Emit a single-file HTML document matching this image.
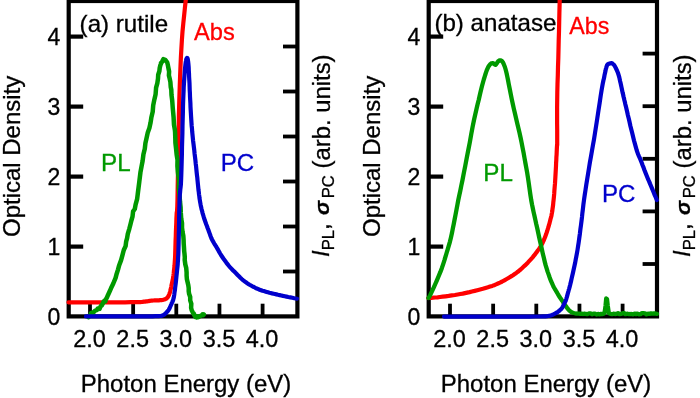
<!DOCTYPE html>
<html><head><meta charset="utf-8"><title>Optical Density, PL and PC spectra of rutile and anatase</title>
<style>
html,body{margin:0;padding:0;background:#fff;}
body{width:700px;height:398px;overflow:hidden;}
svg{display:block;font-family:"Liberation Sans",sans-serif;}
text{stroke:#000;stroke-width:0.3px;}
</style></head><body>
<svg width="700" height="398" viewBox="0 0 700 398">
<rect x="0" y="0" width="700" height="398" fill="#ffffff"/>
<rect x="68.7" y="1.0" width="228.7" height="315.4" fill="none" stroke="#000" stroke-width="4.2"/>
<line x1="90.00" y1="316.4" x2="90.00" y2="303.7" stroke="#000" stroke-width="3.8"/>
<text x="89.50" y="347.2" text-anchor="middle" font-size="23" textLength="32.6" lengthAdjust="spacingAndGlyphs">2.0</text>
<line x1="133.15" y1="316.4" x2="133.15" y2="303.7" stroke="#000" stroke-width="3.8"/>
<text x="132.65" y="347.2" text-anchor="middle" font-size="23" textLength="32.6" lengthAdjust="spacingAndGlyphs">2.5</text>
<line x1="176.30" y1="316.4" x2="176.30" y2="303.7" stroke="#000" stroke-width="3.8"/>
<text x="175.80" y="347.2" text-anchor="middle" font-size="23" textLength="32.6" lengthAdjust="spacingAndGlyphs">3.0</text>
<line x1="219.45" y1="316.4" x2="219.45" y2="303.7" stroke="#000" stroke-width="3.8"/>
<text x="218.95" y="347.2" text-anchor="middle" font-size="23" textLength="32.6" lengthAdjust="spacingAndGlyphs">3.5</text>
<line x1="262.60" y1="316.4" x2="262.60" y2="303.7" stroke="#000" stroke-width="3.8"/>
<text x="262.10" y="347.2" text-anchor="middle" font-size="23" textLength="32.6" lengthAdjust="spacingAndGlyphs">4.0</text>
<text x="60.4" y="324.50" text-anchor="end" font-size="23">0</text>
<line x1="68.7" y1="246.60" x2="83.2" y2="246.60" stroke="#000" stroke-width="4.2"/>
<text x="60.4" y="254.50" text-anchor="end" font-size="23">1</text>
<line x1="68.7" y1="176.60" x2="83.2" y2="176.60" stroke="#000" stroke-width="4.2"/>
<text x="60.4" y="184.50" text-anchor="end" font-size="23">2</text>
<line x1="68.7" y1="106.60" x2="83.2" y2="106.60" stroke="#000" stroke-width="4.2"/>
<text x="60.4" y="114.50" text-anchor="end" font-size="23">3</text>
<line x1="68.7" y1="36.60" x2="83.2" y2="36.60" stroke="#000" stroke-width="4.2"/>
<text x="60.4" y="44.50" text-anchor="end" font-size="23">4</text>
<line x1="297.4" y1="46.50" x2="283.0" y2="46.50" stroke="#000" stroke-width="3.8"/>
<line x1="297.4" y1="91.50" x2="283.0" y2="91.50" stroke="#000" stroke-width="3.8"/>
<line x1="297.4" y1="136.50" x2="283.0" y2="136.50" stroke="#000" stroke-width="3.8"/>
<line x1="297.4" y1="181.50" x2="283.0" y2="181.50" stroke="#000" stroke-width="3.8"/>
<line x1="297.4" y1="226.50" x2="283.0" y2="226.50" stroke="#000" stroke-width="3.8"/>
<line x1="297.4" y1="271.50" x2="283.0" y2="271.50" stroke="#000" stroke-width="3.8"/>
<text transform="translate(20.3,237.0) rotate(-90)" font-size="23.2" textLength="161.2" lengthAdjust="spacingAndGlyphs">Optical Density</text>
<text x="80.8" y="392" font-size="23" textLength="210.5" lengthAdjust="spacingAndGlyphs">Photon Energy (eV)</text>
<g transform="translate(330,256.9) rotate(-90) scale(1.038,1)" font-size="23"><text x="0" y="0"><tspan font-style="italic" dy="-1.2">I</tspan><tspan dy="5.3" font-size="16">PL</tspan><tspan dy="-5.3">, </tspan><tspan font-style="italic" font-weight="bold" font-size="20.5" dx="1.6">σ</tspan><tspan dy="5.3" font-size="16" dx="2.6">PC</tspan><tspan dy="-4.1"> (arb. units)</tspan></text></g>
<polyline points="68.5,302.3 71.9,302.3 76.5,302.3 82.1,302.3 88.1,302.3 94.2,302.3 100.0,302.3 105.9,302.3 112.3,302.3 118.8,302.3 125.1,302.3 130.6,302.2 135.0,302.2 138.1,302.1 140.3,302.1 141.8,302.0 142.8,301.8 143.8,301.7 145.0,301.6 146.3,301.4 147.5,301.3 148.6,301.1 149.7,300.9 150.8,300.7 152.0,300.6 153.3,300.5 154.7,300.4 156.2,300.4 157.6,300.3 158.9,300.3 160.0,300.2 160.9,300.1 161.7,300.1 162.3,300.0 162.9,299.9 163.4,299.8 164.0,299.6 164.6,299.4 165.1,299.2 165.6,299.0 166.1,298.7 166.6,298.4 167.0,298.0 167.4,297.6 167.8,297.1 168.1,296.6 168.4,296.1 168.7,295.6 169.0,295.0 169.2,294.5 169.4,293.9 169.6,293.4 169.8,292.7 170.0,292.0 170.2,291.2 170.4,290.2 170.7,289.1 171.0,287.9 171.3,286.6 171.5,285.3 171.8,284.0 172.1,282.8 172.3,281.6 172.6,280.3 172.9,279.0 173.1,277.4 173.4,275.6 173.7,273.5 173.9,271.1 174.2,268.5 174.5,265.8 174.7,262.9 174.9,260.0 175.1,257.0 175.2,253.8 175.3,250.6 175.4,247.2 175.5,243.7 175.6,240.0 175.8,236.0 175.9,231.7 176.1,227.2 176.3,222.9 176.4,218.7 176.6,215.0 176.7,212.8 176.9,212.1 177.0,211.6 177.1,210.1 177.3,206.4 177.5,199.0 177.7,186.9 178.0,170.7 178.3,152.2 178.6,133.2 178.9,115.2 179.3,100.0 179.7,87.5 180.1,76.4 180.5,66.4 180.9,57.1 181.4,48.4 181.9,40.0 182.5,31.6 183.3,23.4 184.1,15.8 184.8,8.9 185.4,3.2 185.9,-1.0" fill="none" stroke="#ff0000" stroke-width="4.2" stroke-linejoin="round" stroke-linecap="round" />
<polyline points="88.6,317.1 89.2,316.3 90.2,315.3 91.1,313.0 92.5,313.3 93.9,311.9 95.2,310.6 96.7,310.2 97.8,308.5 99.6,308.9 100.0,307.6 101.1,305.6 101.8,305.4 103.1,302.9 103.7,301.5 104.5,300.7 105.1,301.4 105.3,301.5 105.9,299.4 107.0,297.4 107.9,295.2 109.6,291.5 111.0,288.3 113.3,283.5 115.6,277.8 116.7,273.7 118.0,269.6 119.2,265.2 121.1,260.1 122.4,255.4 123.8,250.0 125.6,246.1 126.2,241.3 127.1,238.1 127.8,233.9 129.3,228.8 130.3,225.0 131.4,220.5 132.5,216.7 133.1,211.3 134.8,209.0 135.6,204.6 137.1,199.2 138.1,191.1 139.3,181.8 140.4,172.7 141.7,165.6 142.6,161.0 143.4,154.6 144.8,148.7 145.4,143.2 146.8,137.1 147.8,132.4 149.4,127.9 150.6,122.5 151.3,117.8 152.7,111.8 153.2,105.4 154.4,99.4 155.6,94.2 156.1,87.7 157.3,83.4 158.0,78.7 158.2,74.7 159.4,71.0 159.7,68.0 160.3,65.4 161.3,63.0 161.1,62.8 162.3,61.7 162.5,60.8 163.4,59.2 163.8,59.9 164.3,59.5 164.7,59.5 165.3,59.9 166.3,61.2 167.2,62.3 167.9,65.3 168.5,68.5 169.1,71.5 168.9,75.4 169.6,78.2 170.4,82.1 170.7,86.7 171.3,89.8 171.5,95.0 172.2,100.4 172.7,107.4 173.6,117.3 174.0,124.9 174.9,130.0 175.1,132.7 175.3,138.2 175.4,142.8 176.1,149.1 176.7,155.0 177.5,160.0 177.4,166.0 177.9,172.3 179.0,180.6 178.8,187.8 179.5,194.7 180.0,201.6 180.6,207.2 180.8,212.7 181.2,218.4 182.0,223.2 182.0,227.5 182.6,232.3 183.3,235.7 183.6,239.8 183.7,243.3 184.0,247.7 184.2,251.3 184.5,253.7 184.8,257.2 184.7,259.9 185.3,264.4 186.2,267.8 186.6,272.4 186.6,275.5 186.9,279.3 187.7,282.6 188.3,285.3 188.7,288.1 188.7,291.1 189.1,293.8 190.2,297.0 190.2,300.4 191.3,303.7 191.1,307.8 191.7,310.3 192.6,312.1 193.3,313.0 193.7,313.3 194.2,315.0 194.7,315.1 195.4,317.0 195.6,316.4 196.8,317.4 197.3,316.5 198.0,317.2 199.0,316.8 199.4,316.6 200.0,316.2 200.5,315.8 201.9,315.2 202.5,314.4 203.3,315.1 203.8,314.5" fill="none" stroke="#009900" stroke-width="4.5" stroke-linejoin="round" stroke-linecap="round" />
<polyline points="86.0,316.4 89.7,316.4 95.0,316.4 101.1,316.4 107.7,316.4 114.2,316.4 120.0,316.4 125.5,316.4 131.0,316.4 136.5,316.4 141.6,316.4 146.2,316.3 150.0,316.3 152.9,316.3 155.1,316.2 156.7,316.2 157.9,316.2 158.9,316.1 160.0,316.0 161.0,315.9 161.7,315.8 162.2,315.6 162.6,315.4 163.0,315.2 163.5,315.0 164.0,314.7 164.4,314.5 164.8,314.1 165.2,313.8 165.6,313.4 166.0,313.0 166.4,312.6 166.9,312.1 167.4,311.6 167.8,311.0 168.3,310.4 168.7,309.8 169.1,309.1 169.5,308.4 169.9,307.6 170.2,306.7 170.6,305.9 171.0,305.0 171.4,304.1 171.8,303.1 172.3,302.1 172.7,301.1 173.1,300.1 173.4,299.0 173.7,297.9 173.9,296.8 174.1,295.7 174.3,294.5 174.4,293.3 174.6,292.0 174.8,290.7 175.0,289.4 175.1,288.0 175.3,286.5 175.5,285.0 175.7,283.4 175.9,281.7 176.1,279.8 176.3,277.9 176.5,275.9 176.7,274.0 176.9,272.0 177.1,270.1 177.3,268.3 177.5,266.5 177.7,264.6 177.8,262.5 178.0,260.0 178.1,257.4 178.3,254.7 178.4,251.8 178.5,248.5 178.6,244.6 178.7,240.0 178.8,234.2 179.0,227.2 179.1,219.6 179.2,212.0 179.4,205.1 179.6,199.3 179.8,195.1 180.1,192.0 180.3,189.6 180.6,187.2 180.9,184.2 181.1,180.0 181.3,174.5 181.5,168.2 181.7,161.3 181.9,154.1 182.0,146.9 182.2,140.0 182.4,133.1 182.5,126.0 182.7,118.9 182.9,112.0 183.0,105.6 183.2,100.0 183.4,95.2 183.6,91.0 183.7,87.4 183.9,84.1 184.1,81.0 184.3,78.0 184.5,75.1 184.7,72.5 184.9,70.0 185.1,67.8 185.3,65.8 185.5,64.0 185.7,62.4 186.0,60.9 186.2,59.7 186.5,58.7 186.8,58.1 187.0,57.8 187.2,57.9 187.5,58.3 187.7,58.9 187.9,60.0 188.1,61.3 188.3,63.0 188.5,65.1 188.7,67.7 188.8,70.6 189.0,73.7 189.1,76.9 189.3,80.0 189.5,83.2 189.6,86.4 189.7,89.8 189.9,93.2 190.0,96.6 190.2,100.0 190.4,103.4 190.5,106.8 190.7,110.1 190.9,113.5 191.1,116.8 191.3,120.0 191.5,123.1 191.7,126.0 192.0,128.9 192.2,131.8 192.5,134.7 192.8,137.7 193.1,140.8 193.5,144.0 193.9,147.3 194.3,150.6 194.6,153.8 195.0,157.0 195.4,160.2 195.7,163.4 196.1,166.6 196.4,169.7 196.7,172.7 197.0,175.4 197.3,177.8 197.5,180.1 197.7,182.1 197.9,184.1 198.1,186.0 198.3,188.0 198.5,190.1 198.8,192.1 199.0,194.2 199.3,196.2 199.5,198.1 199.8,200.0 200.1,201.8 200.4,203.5 200.7,205.2 201.1,206.9 201.4,208.4 201.8,210.0 202.2,211.5 202.5,212.8 202.9,214.2 203.3,215.5 203.7,216.9 204.2,218.5 204.8,220.3 205.5,222.2 206.2,224.2 207.0,226.2 207.7,228.2 208.4,230.0 209.0,231.7 209.6,233.4 210.2,235.0 210.7,236.5 211.3,238.0 212.0,239.5 212.7,240.9 213.5,242.2 214.2,243.5 215.0,244.8 215.9,246.1 216.7,247.5 217.5,248.9 218.4,250.4 219.2,251.9 220.1,253.5 221.0,255.0 222.0,256.5 223.0,258.0 224.1,259.6 225.2,261.1 226.3,262.6 227.5,264.1 228.6,265.5 229.7,266.8 230.9,268.1 232.0,269.3 233.1,270.4 234.3,271.6 235.5,272.8 236.7,274.0 237.9,275.3 239.2,276.6 240.4,277.8 241.7,279.0 243.0,280.1 244.3,281.1 245.6,282.1 246.9,283.0 248.3,283.9 249.6,284.7 251.0,285.5 252.4,286.3 253.9,287.0 255.3,287.8 256.8,288.5 258.3,289.1 259.7,289.7 261.1,290.2 262.5,290.7 263.9,291.1 265.2,291.5 266.6,291.9 268.0,292.3 269.4,292.7 270.7,293.0 272.1,293.4 273.5,293.7 274.9,294.0 276.4,294.4 278.0,294.8 279.6,295.1 281.3,295.5 283.0,295.9 284.8,296.2 286.5,296.6 288.3,297.0 290.4,297.4 292.4,297.8 294.3,298.2 295.9,298.5 297.0,298.7" fill="none" stroke="#0000cc" stroke-width="4.2" stroke-linejoin="round" stroke-linecap="round" />
<text x="79.6" y="31.9" font-size="23.2" textLength="88.5" lengthAdjust="spacingAndGlyphs">(a) rutile</text>
<text x="194.0" y="39.6" font-size="23.6" fill="#ff0000" style="stroke:#ff0000" textLength="40.7" lengthAdjust="spacingAndGlyphs">Abs</text>
<text x="101.1" y="171.39999999999998" font-size="24" fill="#009900" style="stroke:#009900" textLength="29.6" lengthAdjust="spacingAndGlyphs">PL</text>
<text x="220.7" y="170.7" font-size="24" fill="#0000cc" style="stroke:#0000cc" textLength="33.4" lengthAdjust="spacingAndGlyphs">PC</text>
<rect x="428.7" y="1.0" width="228.3" height="315.4" fill="none" stroke="#000" stroke-width="4.2"/>
<line x1="450.00" y1="316.4" x2="450.00" y2="303.7" stroke="#000" stroke-width="3.8"/>
<text x="449.50" y="347.2" text-anchor="middle" font-size="23" textLength="32.6" lengthAdjust="spacingAndGlyphs">2.0</text>
<line x1="493.15" y1="316.4" x2="493.15" y2="303.7" stroke="#000" stroke-width="3.8"/>
<text x="492.65" y="347.2" text-anchor="middle" font-size="23" textLength="32.6" lengthAdjust="spacingAndGlyphs">2.5</text>
<line x1="536.30" y1="316.4" x2="536.30" y2="303.7" stroke="#000" stroke-width="3.8"/>
<text x="535.80" y="347.2" text-anchor="middle" font-size="23" textLength="32.6" lengthAdjust="spacingAndGlyphs">3.0</text>
<line x1="579.45" y1="316.4" x2="579.45" y2="303.7" stroke="#000" stroke-width="3.8"/>
<text x="578.95" y="347.2" text-anchor="middle" font-size="23" textLength="32.6" lengthAdjust="spacingAndGlyphs">3.5</text>
<line x1="622.60" y1="316.4" x2="622.60" y2="303.7" stroke="#000" stroke-width="3.8"/>
<text x="622.10" y="347.2" text-anchor="middle" font-size="23" textLength="32.6" lengthAdjust="spacingAndGlyphs">4.0</text>
<text x="420.4" y="324.50" text-anchor="end" font-size="23">0</text>
<line x1="428.7" y1="246.60" x2="443.2" y2="246.60" stroke="#000" stroke-width="4.2"/>
<text x="420.4" y="254.50" text-anchor="end" font-size="23">1</text>
<line x1="428.7" y1="176.60" x2="443.2" y2="176.60" stroke="#000" stroke-width="4.2"/>
<text x="420.4" y="184.50" text-anchor="end" font-size="23">2</text>
<line x1="428.7" y1="106.60" x2="443.2" y2="106.60" stroke="#000" stroke-width="4.2"/>
<text x="420.4" y="114.50" text-anchor="end" font-size="23">3</text>
<line x1="428.7" y1="36.60" x2="443.2" y2="36.60" stroke="#000" stroke-width="4.2"/>
<text x="420.4" y="44.50" text-anchor="end" font-size="23">4</text>
<line x1="657.0" y1="53.60" x2="642.6" y2="53.60" stroke="#000" stroke-width="3.8"/>
<line x1="657.0" y1="106.20" x2="642.6" y2="106.20" stroke="#000" stroke-width="3.8"/>
<line x1="657.0" y1="158.80" x2="642.6" y2="158.80" stroke="#000" stroke-width="3.8"/>
<line x1="657.0" y1="211.40" x2="642.6" y2="211.40" stroke="#000" stroke-width="3.8"/>
<line x1="657.0" y1="264.00" x2="642.6" y2="264.00" stroke="#000" stroke-width="3.8"/>
<text transform="translate(380.3,237.0) rotate(-90)" font-size="23.2" textLength="161.2" lengthAdjust="spacingAndGlyphs">Optical Density</text>
<text x="440.8" y="392" font-size="23" textLength="210.5" lengthAdjust="spacingAndGlyphs">Photon Energy (eV)</text>
<g transform="translate(691,256.9) rotate(-90) scale(1.038,1)" font-size="23"><text x="0" y="0"><tspan font-style="italic" dy="-1.2">I</tspan><tspan dy="5.3" font-size="16">PL</tspan><tspan dy="-5.3">, </tspan><tspan font-style="italic" font-weight="bold" font-size="20.5" dx="1.6">σ</tspan><tspan dy="5.3" font-size="16" dx="2.6">PC</tspan><tspan dy="-4.1"> (arb. units)</tspan></text></g>
<polyline points="428.5,298.0 429.7,297.9 431.3,297.8 433.1,297.7 435.3,297.5 437.6,297.3 440.0,297.0 442.6,296.7 445.6,296.3 448.7,295.9 451.8,295.4 454.9,295.0 457.7,294.5 460.3,294.0 462.7,293.6 465.0,293.1 467.2,292.6 469.6,292.1 472.0,291.5 474.6,290.9 477.3,290.2 480.1,289.5 482.8,288.8 485.5,288.0 487.9,287.3 490.1,286.6 492.2,285.9 494.1,285.2 496.0,284.4 498.0,283.5 500.0,282.6 502.2,281.5 504.4,280.3 506.7,279.0 508.9,277.7 511.1,276.4 513.0,275.2 514.7,274.0 516.3,272.9 517.8,271.8 519.2,270.6 520.6,269.5 522.0,268.2 523.5,266.8 525.0,265.4 526.5,263.9 528.0,262.4 529.4,260.9 530.6,259.6 531.7,258.4 532.7,257.3 533.5,256.2 534.4,255.1 535.2,254.1 536.0,253.0 536.8,251.9 537.6,250.8 538.4,249.8 539.2,248.7 540.0,247.5 540.7,246.3 541.4,245.0 542.1,243.7 542.8,242.4 543.4,241.0 544.1,239.5 544.7,238.0 545.3,236.4 546.0,234.6 546.6,232.8 547.2,231.0 547.7,229.3 548.2,227.7 548.6,226.3 549.0,224.9 549.4,223.7 549.7,222.4 550.0,221.2 550.3,220.0 550.6,218.8 550.9,217.7 551.2,216.6 551.5,215.4 551.7,214.1 552.0,212.6 552.3,210.9 552.5,209.1 552.8,207.1 553.1,204.9 553.3,202.6 553.6,200.0 553.9,197.1 554.2,193.9 554.4,190.5 554.7,186.9 555.0,183.4 555.2,180.0 555.4,176.6 555.6,173.1 555.8,169.6 556.0,166.2 556.1,163.0 556.3,160.0 556.4,157.2 556.6,154.6 556.7,152.1 556.8,149.8 556.9,147.7 557.0,146.0 557.1,145.1 557.1,145.0 557.1,145.2 557.2,145.0 557.2,143.8 557.2,141.0 557.2,136.4 557.2,130.3 557.1,123.3 557.1,115.7 557.1,107.8 557.2,100.0 557.3,92.2 557.5,84.0 557.8,75.6 558.0,67.1 558.3,58.5 558.5,50.0 558.7,41.0 559.0,31.2 559.2,21.4 559.4,12.3 559.6,4.6 559.7,-1.0" fill="none" stroke="#ff0000" stroke-width="4.2" stroke-linejoin="round" stroke-linecap="round" />
<polyline points="428.5,298.0 428.7,297.8 428.9,297.5 429.3,296.8 430.0,295.5 431.0,293.4 432.3,290.6 433.8,287.4 435.3,284.0 436.9,280.3 438.6,276.2 440.4,271.9 441.9,267.9 443.2,264.1 444.4,260.4 445.5,256.7 446.6,253.0 447.7,249.3 448.8,245.6 449.9,241.8 450.9,237.7 451.9,233.3 452.8,228.6 453.8,223.8 454.7,219.0 455.6,214.3 456.5,209.6 457.4,204.8 458.3,200.0 459.3,195.3 460.3,190.7 461.3,185.7 462.5,180.0 463.8,173.2 465.3,165.6 466.8,157.7 468.3,150.0 469.8,142.3 471.2,134.4 472.6,126.8 474.0,120.0 475.3,114.2 476.5,109.0 477.6,104.3 478.7,100.0 479.6,96.0 480.4,92.5 481.2,89.2 482.0,86.0 482.9,82.7 483.8,79.5 484.7,76.6 485.5,74.0 486.2,71.9 486.8,70.2 487.4,68.8 488.0,67.5 488.6,66.4 489.2,65.5 489.8,64.7 490.4,64.1 491.0,63.6 491.7,63.3 492.4,63.2 493.0,63.2 493.6,63.5 494.3,64.2 494.9,64.7 495.5,64.8 496.1,64.3 496.8,63.3 497.4,62.3 498.0,61.5 498.6,61.0 499.2,60.6 499.9,60.3 500.5,60.3 501.1,60.5 501.8,60.9 502.4,61.6 503.0,62.5 503.6,63.7 504.2,65.2 504.9,67.0 505.5,69.0 506.1,71.2 506.7,73.7 507.3,76.6 508.0,80.0 508.8,84.3 509.8,89.2 510.8,94.3 511.8,99.3 512.8,104.0 513.8,108.6 514.9,113.3 516.0,118.0 517.1,122.8 518.3,127.8 519.5,132.7 520.6,137.7 521.6,142.7 522.6,147.8 523.6,152.9 524.5,158.0 525.4,163.0 526.3,167.9 527.2,172.9 528.0,178.0 528.8,183.5 529.6,189.2 530.4,194.9 531.2,200.0 532.0,204.4 532.8,208.3 533.6,212.1 534.5,216.0 535.4,220.1 536.3,224.3 537.3,228.5 538.2,232.7 539.1,237.0 540.1,241.4 541.1,245.8 542.0,250.0 542.9,254.1 543.9,258.1 544.8,261.9 545.7,265.4 546.7,268.6 547.6,271.6 548.6,274.4 549.5,277.0 550.4,279.4 551.3,281.7 552.2,283.7 553.0,285.5 553.7,287.0 554.4,288.2 555.1,289.3 555.8,290.5 556.6,291.9 557.4,293.3 558.2,294.7 559.0,296.0 559.8,297.2 560.5,298.3 561.3,299.4 562.0,300.5 562.8,301.6 563.5,302.8 564.2,303.9 565.0,305.0 565.8,306.1 566.5,307.1 567.2,308.1 568.0,309.0 568.7,309.8 569.4,310.6 570.2,311.2 571.0,311.8 571.9,312.3 572.9,312.7 573.9,313.0 575.0,313.3 576.3,313.5 577.8,313.6 579.1,313.7 580.0,313.8 581.5,313.6 583.0,314.0 584.5,313.7 586.0,314.0 587.5,314.1 589.0,313.4 590.5,313.3 592.0,314.3 593.5,313.6 595.0,313.6 596.5,314.5 598.0,313.9 599.5,314.3 601.0,313.9 602.5,314.1 604.0,313.5 604.5,313.0 605.5,306.0 606.2,298.5 607.0,299.0 607.8,306.0 608.8,313.0 610.5,313.9 612.0,314.2 613.5,313.7 615.0,314.0 616.5,313.9 618.0,313.1 619.5,314.1 621.0,313.8 622.5,313.4 624.0,313.0 625.5,314.2 627.0,313.7 628.5,314.0 630.0,314.2 631.5,314.0 633.0,314.3 634.5,313.6 636.0,314.1 637.5,313.6 639.0,314.3 640.5,314.2 642.0,313.1 643.5,313.2 645.0,313.3 646.5,314.4 648.0,313.6 649.5,313.9 651.0,313.4 652.5,313.7 654.0,313.5 655.5,313.5 657.0,313.8" fill="none" stroke="#009900" stroke-width="4.3" stroke-linejoin="round" stroke-linecap="round" />
<polyline points="444.0,316.6 450.3,316.6 459.1,316.6 469.5,316.6 480.4,316.6 490.9,316.6 500.0,316.6 508.0,316.6 515.7,316.6 523.0,316.6 529.6,316.6 535.4,316.5 540.0,316.5 543.2,316.4 545.2,316.4 546.2,316.3 546.8,316.2 547.3,316.1 548.0,316.0 548.9,315.9 549.6,315.7 550.2,315.6 550.8,315.4 551.4,315.2 552.0,315.0 552.7,314.7 553.4,314.4 554.1,314.1 554.7,313.7 555.4,313.3 556.0,313.0 556.6,312.7 557.1,312.4 557.6,312.1 558.0,311.7 558.5,311.4 559.0,311.0 559.5,310.6 560.0,310.1 560.5,309.7 561.0,309.2 561.5,308.6 562.0,308.0 562.5,307.3 562.9,306.4 563.4,305.5 563.8,304.6 564.2,303.8 564.6,303.0 564.9,302.4 565.2,301.8 565.4,301.4 565.7,300.8 565.9,300.2 566.2,299.3 566.5,298.2 566.9,296.9 567.3,295.4 567.7,293.9 568.1,292.4 568.5,291.0 568.8,289.7 569.2,288.6 569.5,287.4 569.8,286.2 570.2,284.7 570.6,283.0 571.1,280.9 571.6,278.6 572.2,276.1 572.8,273.5 573.4,270.8 574.0,268.0 574.6,265.3 575.2,262.5 575.7,259.6 576.3,256.6 576.9,253.4 577.5,250.0 578.1,246.2 578.7,242.2 579.3,237.9 579.9,233.6 580.4,229.2 581.0,225.0 581.5,220.9 582.0,216.9 582.4,212.9 582.9,208.9 583.4,204.6 584.0,200.0 584.7,195.1 585.5,190.0 586.3,184.6 587.2,179.1 588.1,173.6 589.0,168.0 589.9,162.4 590.9,156.8 591.9,151.2 592.9,145.4 594.0,139.3 595.0,133.0 596.1,126.0 597.3,118.2 598.5,110.2 599.7,102.6 600.7,95.7 601.6,90.2 602.3,86.2 602.8,83.4 603.2,81.5 603.5,80.0 603.9,78.6 604.2,77.0 604.5,75.3 604.9,73.6 605.2,72.2 605.5,70.8 605.7,69.6 606.0,68.5 606.3,67.6 606.5,66.8 606.7,66.1 607.0,65.5 607.2,65.0 607.5,64.6 607.8,64.3 608.1,64.0 608.5,63.9 608.8,63.8 609.2,63.7 609.5,63.6 609.8,63.5 610.2,63.4 610.5,63.3 610.9,63.2 611.2,63.2 611.5,63.2 611.8,63.2 612.0,63.3 612.2,63.4 612.5,63.5 612.7,63.7 613.0,63.9 613.3,64.2 613.6,64.4 613.9,64.8 614.2,65.2 614.6,65.8 615.0,66.5 615.5,67.4 616.0,68.5 616.6,69.7 617.2,71.1 617.8,72.5 618.3,74.0 618.8,75.6 619.3,77.4 619.7,79.2 620.1,81.2 620.6,83.1 621.0,85.0 621.4,86.9 621.8,88.8 622.2,90.7 622.6,92.6 623.1,94.5 623.5,96.5 624.0,98.4 624.4,100.3 624.9,102.2 625.3,104.2 625.9,106.4 626.5,109.0 627.2,112.0 627.9,115.2 628.8,118.7 629.6,122.3 630.4,126.0 631.3,129.5 632.2,133.1 633.1,136.8 634.0,140.5 635.0,144.1 635.9,147.4 636.7,150.3 637.5,152.6 638.2,154.5 638.9,156.1 639.6,157.6 640.3,159.2 641.0,161.0 641.8,163.0 642.6,165.2 643.5,167.4 644.3,169.7 645.2,171.9 646.0,174.0 646.8,176.0 647.6,178.0 648.4,179.9 649.3,181.9 650.1,183.9 651.0,186.0 652.0,188.4 653.1,191.0 654.2,193.8 655.3,196.3 656.2,198.5 656.8,200.0" fill="none" stroke="#0000cc" stroke-width="4.2" stroke-linejoin="round" stroke-linecap="round" />
<text x="434.4" y="31.0" font-size="23.2" textLength="122" lengthAdjust="spacingAndGlyphs">(b) anatase</text>
<text x="569.3" y="33.8" font-size="23.6" fill="#ff0000" style="stroke:#ff0000" textLength="40.0" lengthAdjust="spacingAndGlyphs">Abs</text>
<text x="483.3" y="180.7" font-size="24" fill="#009900" style="stroke:#009900" textLength="29.6" lengthAdjust="spacingAndGlyphs">PL</text>
<text x="602.0" y="201.89999999999998" font-size="24" fill="#0000cc" style="stroke:#0000cc" textLength="33.4" lengthAdjust="spacingAndGlyphs">PC</text>
</svg>
</body></html>
